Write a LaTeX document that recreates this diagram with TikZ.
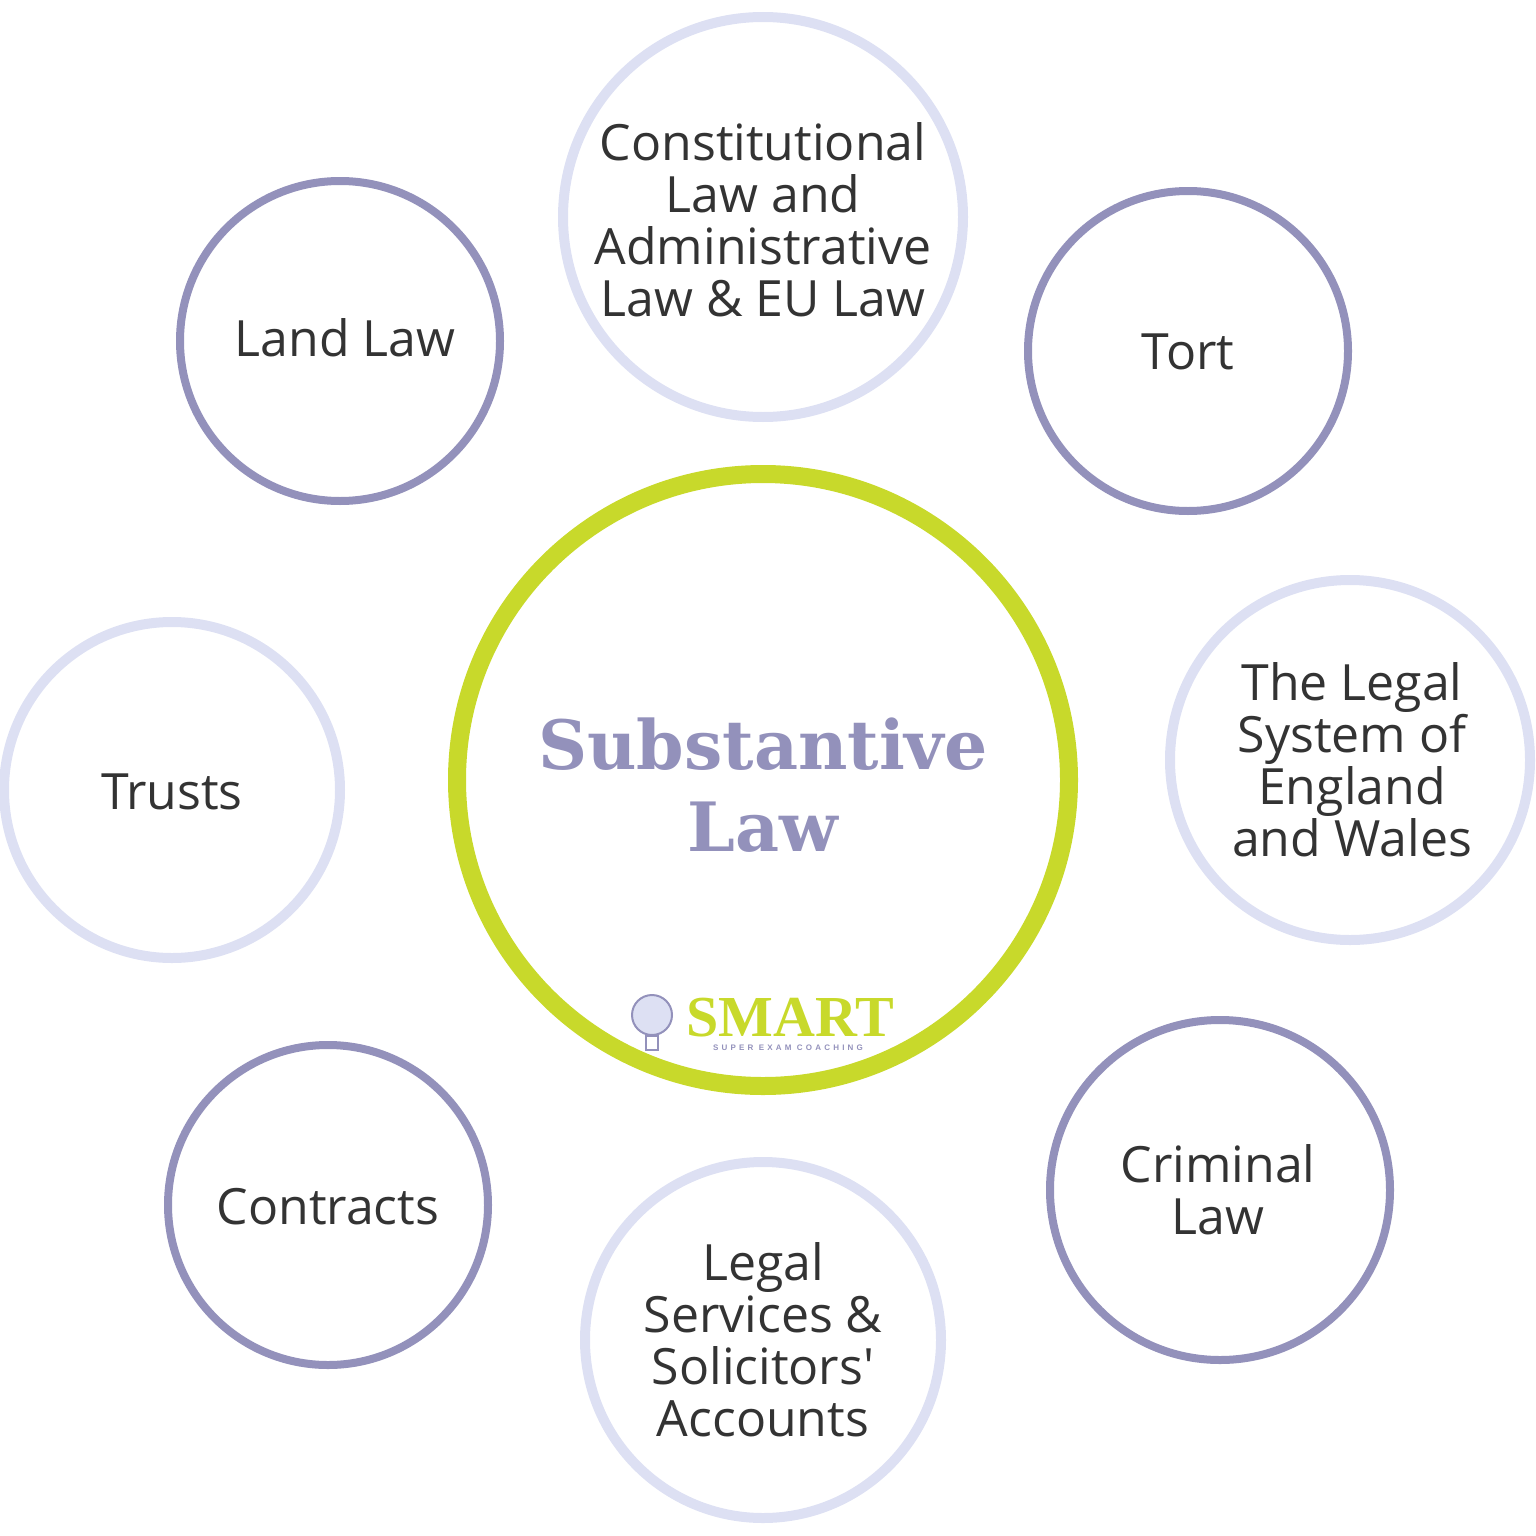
\documentclass[tikz,border=0pt]{standalone}
\usepackage{fontspec}
\setmainfont{Open Sans}
\newfontfamily\plainopen[Ligatures=ResetAll]{Open Sans}
\newfontfamily\slab{DejaVu Serif}
\newfontfamily\logofont{Liberation Serif}
\newfontfamily\tagfont[LetterSpace=40]{Liberation Sans}
\definecolor{dk}{HTML}{9391BB}
\definecolor{lt}{HTML}{DDE0F3}
\definecolor{gr}{HTML}{C8D92B}
\definecolor{tx}{HTML}{333333}
\begin{document}
\begin{tikzpicture}[x=0.5pt,y=-0.5pt,
  dc/.style={circle,draw=dk,line width=4pt,minimum size=#1},
  lc/.style={circle,draw=lt,line width=5pt,minimum size=#1},
  lab/.style={text=tx,font=\fontsize{25}{26}\selectfont,align=center}]
\useasboundingbox (0,0) rectangle (1536,1536);
\node[circle,draw=gr,line width=9pt,minimum size=612*0.5pt] (c) at (763,780) {};
\node[text=dk,font=\slab\bfseries\fontsize{34}{41}\selectfont,align=center] (ct) at (763,785) {Substantive\\Law};
\node[font=\logofont\bfseries\fontsize{29}{29}\selectfont,text=gr] (logo) at (790,1018) {SMART};
\node[font=\tagfont\bfseries\fontsize{4}{4}\selectfont,text=dk] (logo2) at (788,1048) {SUPER EXAM COACHING};
\node[circle,draw=dk,fill=lt,line width=1pt,minimum size=20pt] (bulb) at (652,1015) {};
\node[draw=dk,fill=white,line width=0.8pt,minimum width=6pt,minimum height=7pt,inner sep=0pt] (base) at (652,1043) {};
\node[lc=400*0.5pt] (a) at (763,217) {};
\node[lab] at (763,220) {Constitutional\\Law and\\Administrative\\Law \& EU Law};
\node[dc=320*0.5pt] (b) at (340,341) {};
\node[lab] at (345,338) {Land Law};
\node[dc=320*0.5pt] (t) at (1188,351) {};
\node[lab] at (1188,352) {Tort};
\node[lc=360*0.5pt] (s) at (1350,760) {};
\node[lab] at (1352,760) {The Legal\\System of\\England\\and Wales};
\node[lc=336*0.5pt] (tr) at (172,790) {};
\node[lab] at (172,792) {Trusts};
\node[dc=340*0.5pt] (cr) at (1220,1190) {};
\node[lab] at (1218,1190) {Criminal\\Law};
\node[dc=320*0.5pt] (co) at (328,1205) {};
\node[lab] at (328,1207) {Contracts};
\node[lc=356*0.5pt] (ls) at (763,1340) {};
\node[lab] at (763,1340) {Legal\\Services \&\\Solicitors{\plainopen'}\\Accounts};
\end{tikzpicture}
\end{document}
